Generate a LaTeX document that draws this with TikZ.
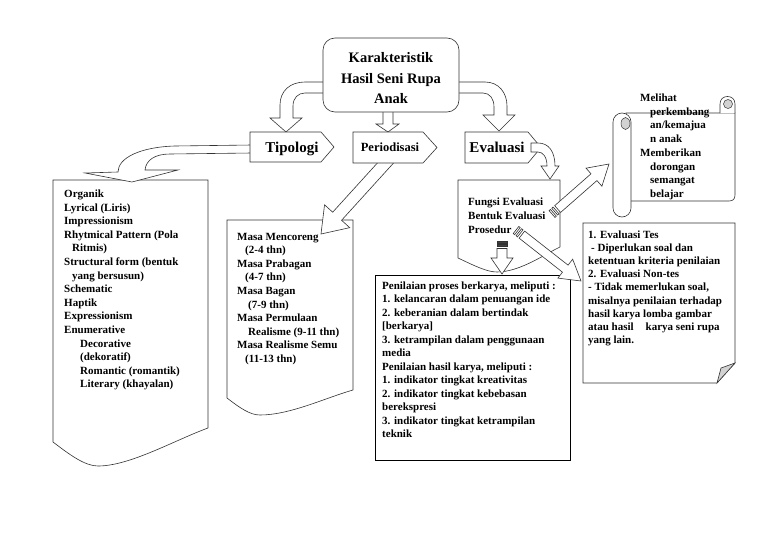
\documentclass[tikz,border=0pt]{standalone}
\usepackage{fontspec}
\setmainfont{Liberation Serif}
\usetikzlibrary{calc}
\tikzset{
  shp/.style={draw=black!80, line width=0.6pt, fill=white, line join=miter},
  txt/.style={anchor=base west, inner sep=0pt, font=\bfseries\fontsize{11}{13}\selectfont},
  ctxt/.style={anchor=base, inner sep=0pt, font=\bfseries\fontsize{14.5}{18}\selectfont},
  btxt/.style={anchor=base, inner sep=0pt, font=\bfseries\fontsize{15}{18}\selectfont},
  ptxt/.style={anchor=base, inner sep=0pt, font=\bfseries\fontsize{12.5}{15}\selectfont}
}
\newcommand{\textlines}[5]{%
  \foreach \tline [count=\tidx] in {#5} {%
    \node[txt] (#1-\tidx) at (#2, {#3+(\tidx-1)*#4}) {\tline};
  }%
}
\newcommand{\blockarrow}[6][]{%
  \coordinate (ba-H) at ($(#3)!#6!(#2)$);
  \draw[shp,#1] ($(#2)!#4!90:(#3)$) -- ($(ba-H)!#4!-90:(#2)$) -- ($(ba-H)!#5!-90:(#2)$) -- (#3) -- ($(ba-H)!#5!90:(#2)$) -- ($(ba-H)!#4!90:(#2)$) -- ($(#2)!#4!-90:(#3)$) -- cycle;
}
\newcommand{\stripedarrow}[6][white]{%
  \coordinate (sa-1) at ($(#2)!1.8pt!(#3)$);
  \coordinate (sa-2) at ($(#2)!3.6pt!(#3)$);
  \coordinate (sa-3) at ($(#2)!5.4pt!(#3)$);
  \coordinate (sa-4) at ($(#2)!7.5pt!(#3)$);
  \draw[shp, fill=#1] ($(#2)!#4!90:(#3)$) -- ($(sa-1)!#4!-90:(#2)$) -- ($(sa-1)!#4!90:(#2)$) -- ($(#2)!#4!-90:(#3)$) -- cycle;
  \draw[shp, fill=#1] ($(sa-2)!#4!90:(#3)$) -- ($(sa-3)!#4!-90:(#2)$) -- ($(sa-3)!#4!90:(#2)$) -- ($(sa-2)!#4!-90:(#3)$) -- cycle;
  \blockarrow{sa-4}{#3}{#4}{#5}{#6}%
}
\begin{document}
\begin{tikzpicture}[x=1pt,y=-1pt]
\useasboundingbox (0,0) rectangle (768,543);
\fill[white] (0,0) rectangle (768,543);

% Tipologi content box
\draw[shp] (53,180) -- (208,180) -- (208,428) .. controls (175,440) and (130,466) .. (98,466) .. controls (85,466) and (70,455) .. (53,442) -- cycle;
% Periodisasi content box
\draw[shp] (227,220) -- (353,220) -- (353,390) .. controls (325,398) and (290,415) .. (260,415) .. controls (250,415) and (240,408) .. (227,398) -- cycle;

% Tipologi -> content arrow
\draw[shp] (252,145) -- (175,146) .. controls (140,147) and (118,158) .. (118,172) -- (85,173) -- (132,182) -- (178,170) -- (145,170) .. controls (146,160) and (155,154) .. (170,154) -- (252,153) -- cycle;

% Periodisasi -> content arrow
\coordinate (pm-a) at (390,158);
\coordinate (pm-b) at (321,234);
\blockarrow{pm-a}{pm-b}{6pt}{17pt}{24pt}

% arrows from the central box
\draw[shp] (325,82) -- (305,82) .. controls (290,82) and (280,91) .. (280,105) -- (280,118) -- (270,118) -- (286,132) -- (302,118) -- (293,118) -- (293,106) .. controls (293,98) and (298,93) .. (305,93) -- (325,93) -- cycle;
\draw[shp] (457,82) -- (485,82) .. controls (499,82) and (507,93) .. (507,106) -- (507,115) -- (515,115) -- (499,131) -- (483,115) -- (494,115) -- (494,107) .. controls (494,99) and (490,93) .. (483,93) -- (457,93) -- cycle;
\draw[shp] (383,110) -- (383,124) -- (376,124) -- (388,132) -- (399,124) -- (393,124) -- (393,110) -- cycle;

% central box
\draw[shp, rounded corners=12pt] (323,38) rectangle (459,112);
\node[ctxt] (k1) at (391,63) {Karakteristik};
\node[ctxt] (k2) at (391,83) {Hasil Seni Rupa};
\node[ctxt] (k3) at (391,103) {Anak};

% pentagons
\draw[shp] (250,132) -- (321,132) -- (334,147) -- (321,162) -- (250,162) -- cycle;
\node[btxt] (tip) at (292,152) {Tipologi};
\draw[shp] (353,132) -- (423,132) -- (437,147.5) -- (423,163) -- (353,163) -- cycle;
\node[ptxt] (per) at (390,151.5) {Periodisasi};
\draw[shp] (465,132) -- (528,132) -- (541,147.5) -- (528,163) -- (465,163) -- cycle;
\node[btxt] (eva) at (497,152) {Evaluasi};

% Fungsi box
\draw[shp] (458,180) -- (560,180) -- (560,247) .. controls (545,254) and (520,272) .. (497,272) .. controls (487,272) and (475,266) .. (458,258) -- cycle;
% Evaluasi -> Fungsi
\draw[shp] (531,143) -- (538,143) .. controls (549,143) and (555,152) .. (555,166) -- (559,166) -- (550,179) -- (541,166) -- (547,166) .. controls (547,157) and (543,152) .. (538,152) -- (531,152) -- cycle;

% Penilaian box
\draw[shp, draw=black, line width=0.9pt] (375,275) rectangle (570,460);

% note with folded corner
\draw[shp] (583,223) -- (735,223) -- (735,363) -- (717,383) -- (583,383) -- cycle;
\draw[shp, fill=gray!35] (717,383) -- (721,368) -- (735,363) -- cycle;

% scroll
\draw[shp] (626,113) -- (735,113) -- (735,195) .. controls (735,199) and (733,201) .. (729,201) -- (626,201) -- cycle;
\draw[shp] (720,113) -- (720,104) .. controls (720,99) and (723.5,96.5) .. (727.5,96.5) .. controls (731.5,96.5) and (735,99) .. (735,104) -- (735,113);
\draw[draw=black!80, line width=0.5pt, fill=gray!35] (728,104) circle (4.5);
\draw[shp, rounded corners=9pt] (613,113) rectangle (631,217);
\draw[draw=black!80, line width=0.5pt, fill=gray!35] (625.5,123.5) ellipse (4.5 and 6);

% diagonal and down arrows
\coordinate (fs-a) at (552,214);
\coordinate (fs-b) at (609,164);
\stripedarrow{fs-a}{fs-b}{4.5pt}{12pt}{20pt}
\coordinate (fp-a) at (516,230);
\coordinate (fp-b) at (581,281);
\stripedarrow{fp-a}{fp-b}{4.5pt}{12pt}{20pt}
\coordinate (fd-a) at (502,241);
\coordinate (fd-b) at (502,274);
\stripedarrow[black!75]{fd-a}{fd-b}{5pt}{11pt}{16pt}

% texts
\textlines{org}{64}{197.5}{13.6}{Organik, Lyrical (Liris), Impressionism, Rhytmical Pattern (Pola, \hspace*{8pt}Ritmis), Structural form (bentuk, \hspace*{8pt}yang bersusun), Schematic, Haptik, Expressionism, Enumerative, \hspace*{16pt}Decorative, \hspace*{16pt}(dekoratif), \hspace*{16pt}Romantic (romantik), \hspace*{16pt}Literary (khayalan)}
\textlines{mas}{237}{240}{13.6}{Masa Mencoreng, \hspace*{8pt}(2-4 thn), Masa Prabagan, \hspace*{8pt}(4-7 thn), Masa Bagan, \hspace*{11pt}(7-9 thn), Masa Permulaan, \hspace*{11pt}Realisme (9-11 thn), Masa Realisme Semu, \hspace*{8pt}(11-13 thn)}
\textlines{fun}{468}{205}{14}{Fungsi Evaluasi, Bentuk Evaluasi, Prosedur}
\textlines{pen}{382}{289}{13.5}{{Penilaian proses berkarya, meliputi :}, 1. kelancaran dalam penuangan ide, 2. keberanian dalam bertindak, [berkarya], 3. ketrampilan dalam penggunaan, media, {Penilaian hasil karya, meliputi :}, 1. indikator tingkat kreativitas, 2. indikator tingkat kebebasan, berekspresi, 3. indikator tingkat ketrampilan, teknik}
\textlines{ev}{588}{238}{13.2}{1. Evaluasi Tes, \hspace*{3pt}- Diperlukan soal dan, ketentuan kriteria penilaian, 2. Evaluasi Non-tes, {- Tidak memerlukan soal,}, misalnya penilaian terhadap, hasil karya lomba gambar, atau hasil\hspace{12pt}karya seni rupa, yang lain.}
\textlines{scr}{640}{101.5}{13.7}{Melihat, \hspace*{10pt}perkembang, \hspace*{10pt}an/kemajua, \hspace*{10pt}n anak, Memberikan, \hspace*{10pt}dorongan, \hspace*{10pt}semangat, \hspace*{10pt}belajar}
\end{tikzpicture}
\end{document}
